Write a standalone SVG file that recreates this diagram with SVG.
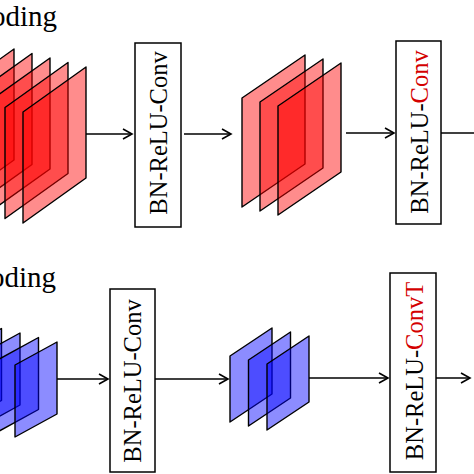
<svg xmlns="http://www.w3.org/2000/svg" width="474" height="474" viewBox="0 0 474 474">
<defs>
<style>
.red{fill:#ff0000;fill-opacity:0.45;stroke:#000;stroke-width:1.4;stroke-linejoin:round}
.blue{fill:#0000ff;fill-opacity:0.45;stroke:#000;stroke-width:1.4;stroke-linejoin:round}
.box{fill:#fff;stroke:#000;stroke-width:1.5}
.lbl{font-family:"Liberation Serif","Times New Roman",serif;font-size:24.5px;fill:#000}
.ttl{font-family:"Liberation Serif","Times New Roman",serif;font-size:29px;fill:#000}
.hl{fill:#d40000}
.conn{stroke:#000;stroke-width:1.6;fill:none}
</style>
<marker id="arr" markerUnits="userSpaceOnUse" markerWidth="14" markerHeight="14" refX="10" refY="6" orient="auto">
<path d="M1,1 L10,6 L1,11" fill="none" stroke="#000" stroke-width="1.6"/>
</marker>
</defs>
<rect width="474" height="474" fill="#fff"/>

<text class="ttl" x="57" y="26" text-anchor="end">Encoding</text>
<text class="ttl" x="56" y="287" text-anchor="end">Decoding</text>

<g id="enc-input">
<path class="red" d="M-49,94 l63,-45 v111 l-63,45 z"/>
<path class="red" d="M-31,98.5 l63,-45 v111 l-63,45 z"/>
<path class="red" d="M-13,103 l63,-45 v111 l-63,45 z"/>
<path class="red" d="M5,107.5 l63,-45 v111 l-63,45 z"/>
<path class="red" d="M23,112 l63,-45 v111 l-63,45 z"/>
</g>
<g id="enc-box1">
<rect class="box" x="135" y="43" width="46" height="184"/>
<text class="lbl" transform="translate(167,133) rotate(-90)" text-anchor="middle">BN-ReLU-Conv</text>
</g>
<g id="enc-mid">
<path class="red" d="M242,98 l63,-43 v109 l-63,43 z"/>
<path class="red" d="M260,102 l63,-43 v109 l-63,43 z"/>
<path class="red" d="M278,106 l63,-43 v109 l-63,43 z"/>
</g>
<g id="enc-box2">
<rect class="box" x="396" y="41" width="45" height="183"/>
<text class="lbl" transform="translate(428,132) rotate(-90)" text-anchor="middle">BN-ReLU-<tspan class="hl">Conv</tspan></text>
</g>

<g id="dec-input">
<path class="blue" d="M-40.5,351.5 l42,-23 v72 l-42,23 z"/>
<path class="blue" d="M-22,356 l42,-23 v72 l-42,23 z"/>
<path class="blue" d="M-3.5,360.5 l42,-23 v72 l-42,23 z"/>
<path class="blue" d="M15,365 l42,-23 v72 l-42,23 z"/>
</g>
<g id="dec-box1">
<rect class="box" x="110" y="289" width="45" height="183"/>
<text class="lbl" transform="translate(141,381) rotate(-90)" text-anchor="middle">BN-ReLU-Conv</text>
</g>
<g id="dec-mid">
<path class="blue" d="M230,356 l42,-28 v66 l-42,28 z"/>
<path class="blue" d="M248.5,360 l42,-28 v66 l-42,28 z"/>
<path class="blue" d="M267,364 l42,-28 v66 l-42,28 z"/>
</g>
<g id="dec-box2">
<rect class="box" x="390" y="273" width="46" height="199"/>
<text class="lbl" transform="translate(423,371) rotate(-90)" text-anchor="middle">BN-ReLU-<tspan class="hl">ConvT</tspan></text>
</g>

<g id="connectors">
<line class="conn" x1="86" y1="134" x2="132" y2="134" marker-end="url(#arr)"/>
<line class="conn" x1="184" y1="134" x2="231" y2="134" marker-end="url(#arr)"/>
<line class="conn" x1="346" y1="133" x2="394" y2="133" marker-end="url(#arr)"/>
<line class="conn" x1="441" y1="133" x2="474" y2="133"/>
<line class="conn" x1="57" y1="379" x2="108" y2="379" marker-end="url(#arr)"/>
<line class="conn" x1="155" y1="379" x2="228" y2="379" marker-end="url(#arr)"/>
<line class="conn" x1="309" y1="378" x2="388" y2="378" marker-end="url(#arr)"/>
<line class="conn" x1="436" y1="378" x2="470" y2="378" marker-end="url(#arr)"/>
</g>
</svg>
